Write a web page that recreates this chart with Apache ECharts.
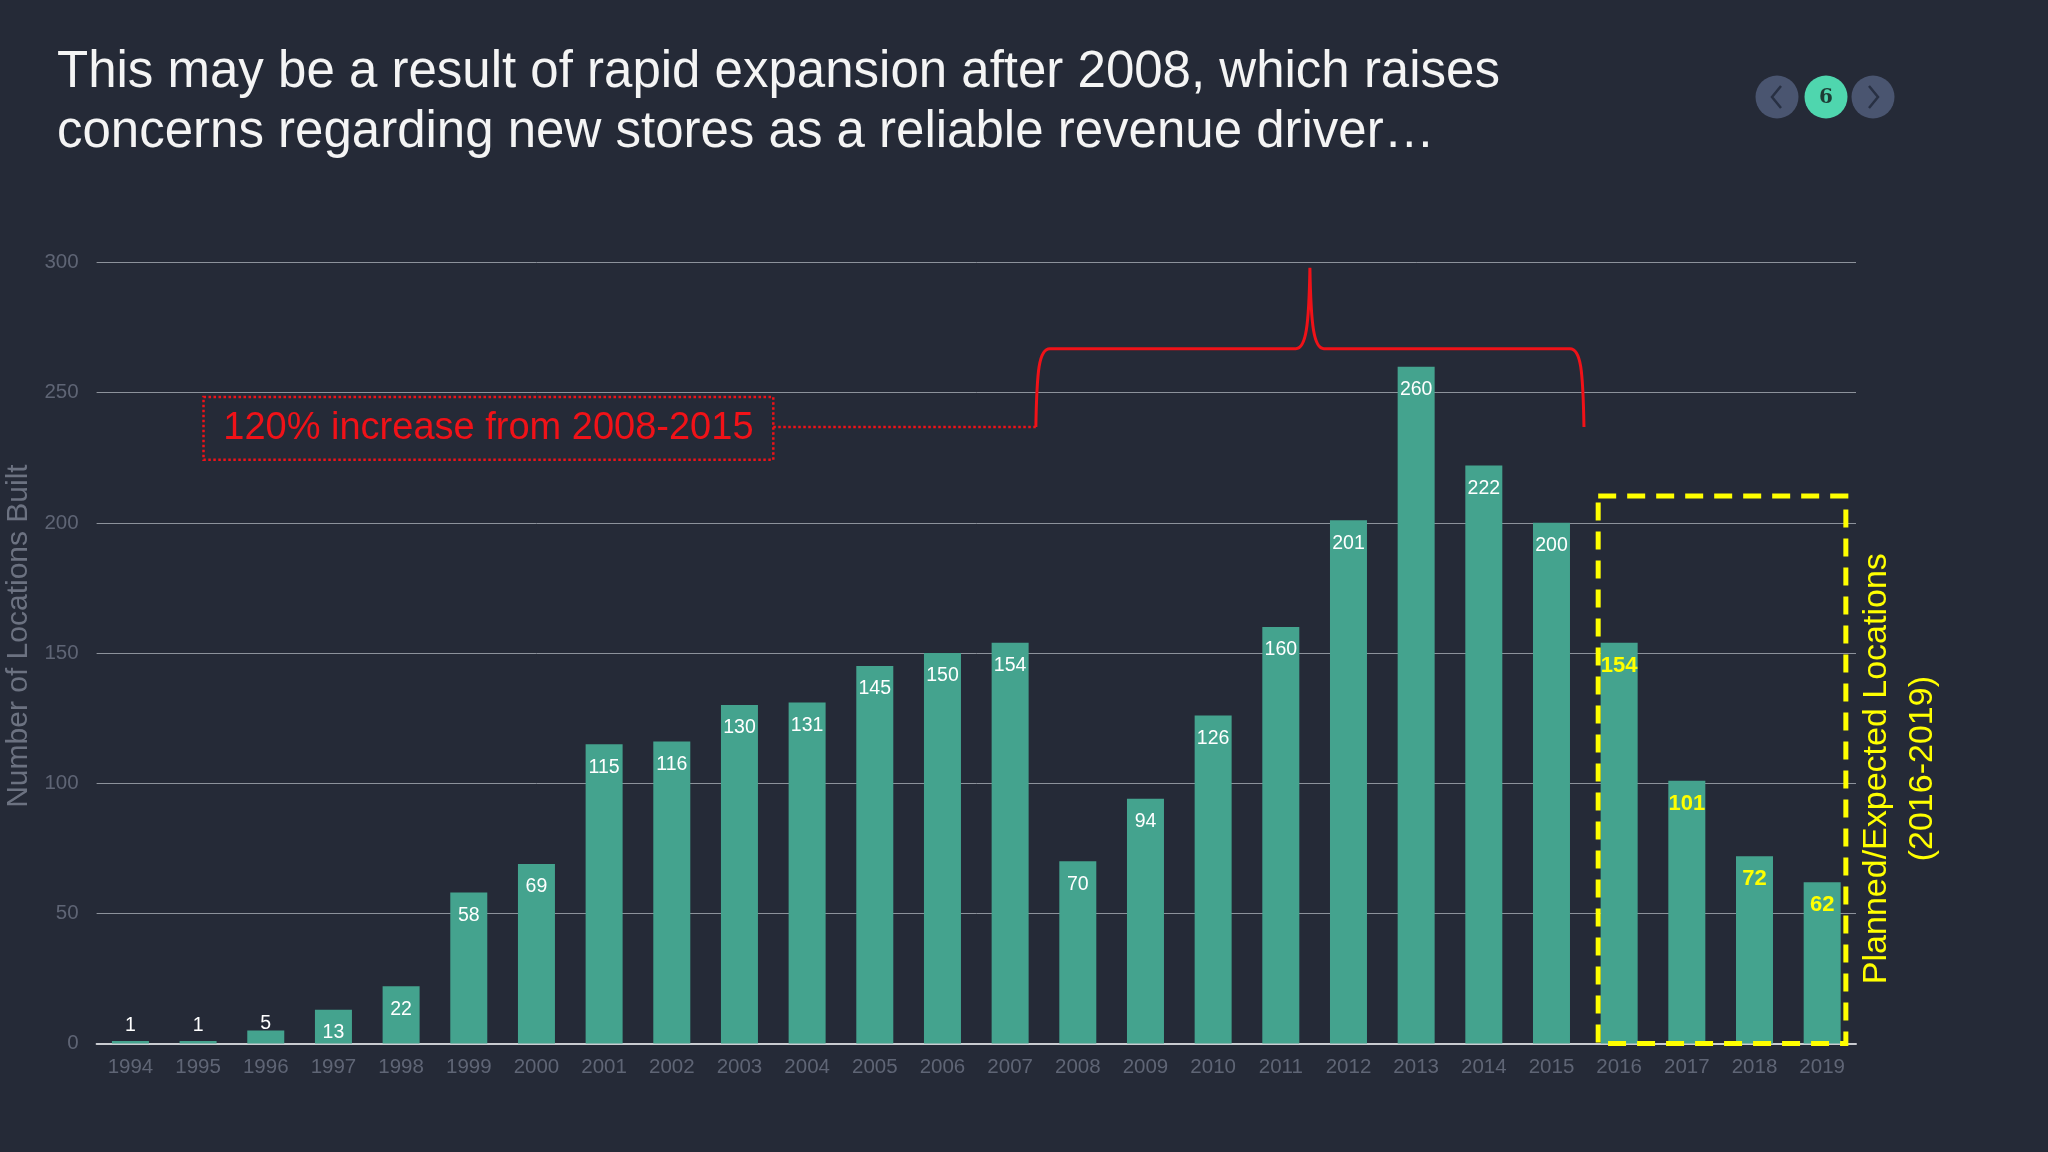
<!DOCTYPE html>
<html>
<head>
<meta charset="utf-8">
<script src="https://cdn.jsdelivr.net/npm/echarts@6/dist/echarts.min.js"></script>
<style>
html,body{margin:0;padding:0;background:#252a37;}
#chart{width:2048px;height:1152px;}
</style>
</head>
<body>
<div id="chart"></div>
<script>
const years = ['1994','1995','1996','1997','1998','1999','2000','2001','2002','2003','2004','2005','2006','2007','2008','2009','2010','2011','2012','2013','2014','2015','2016','2017','2018','2019'];
const locations = [1,1,5,13,22,58,69,115,116,130,131,145,150,154,70,94,126,160,201,260,222,200,154,101,72,62];
const plannedYears = ['2016','2017','2018','2019'];
const yTicks = [0,50,100,150,200,250,300];
const titleText = 'This may be a result of rapid expansion after 2008, which raises\nconcerns regarding new stores as a reliable revenue driver…';
const annotationText = '120% increase from 2008-2015';
const plannedText = 'Planned/Expected Locations\n(2016-2019)';
const yAxisName = 'Number of Locations Built';
const pageNumber = '6';

const FONT = '"Liberation Sans", Arial, Helvetica, sans-serif';
const chart = echarts.init(document.getElementById('chart'));

const barData = locations.map((v, i) => {
  const planned = plannedYears.indexOf(years[i]) >= 0;
  const item = { value: v };
  if (v < 10) {
    item.label = { position: 'top', distance: v < 3 ? 5 : -3 };
  }
  if (planned) {
    item.label = { color: '#ffff00', fontWeight: 'bold', fontSize: 22, distance: 12 };
  }
  return item;
});

function annotations(params, api) {
  const base = api.coord([0, 0]);
  const bw = api.size([1, 0])[0];
  const left = base[0] - bw / 2;
  const px = b => left + b * bw;
  const py = v => api.coord([0, v])[1];
  const red = '#f01218';
  const yellow = '#ffff00';

  const x0 = px(13.88), x1 = px(21.98), xm = px(17.93);
  const yB = py(236.8), yH = py(266.9), yP = py(298);
  const bracePath =
    'M' + x0 + ' ' + yB +
    ' C' + (x0 + 1) + ' ' + (yH + 22) + ' ' + (x0 + 3) + ' ' + yH + ' ' + (x0 + 14) + ' ' + yH +
    ' L' + (xm - 14) + ' ' + yH +
    ' C' + (xm - 4) + ' ' + yH + ' ' + (xm - 1) + ' ' + (yH - 22) + ' ' + xm + ' ' + yP +
    ' C' + (xm + 1) + ' ' + (yH - 22) + ' ' + (xm + 4) + ' ' + yH + ' ' + (xm + 14) + ' ' + yH +
    ' L' + (x1 - 14) + ' ' + yH +
    ' C' + (x1 - 3) + ' ' + yH + ' ' + (x1 - 1) + ' ' + (yH + 22) + ' ' + x1 + ' ' + yB;

  const bx0 = px(1.58), bx1 = px(10.0), by0 = py(248.3), by1 = py(224.2);
  const yx0 = px(22.19), yx1 = px(25.85), yy0 = py(210.3), yy1 = py(0);

  return {
    type: 'group',
    children: [
      { type: 'path', shape: { pathData: bracePath }, style: { fill: null, stroke: red, lineWidth: 3 } },
      { type: 'rect', shape: { x: bx0, y: by0, width: bx1 - bx0, height: by1 - by0 },
        style: { fill: null, stroke: red, lineWidth: 2.5, lineDash: [2.5, 2.5] } },
      { type: 'line', shape: { x1: bx1, y1: yB, x2: x0, y2: yB },
        style: { stroke: red, lineWidth: 2.5, lineDash: [2.5, 2.5] } },
      { type: 'text', style: { text: annotationText, x: (bx0 + bx1) / 2, y: (by0 + by1) / 2,
        fill: red, fontSize: 38, fontFamily: FONT, align: 'center', verticalAlign: 'middle' } },
      { type: 'rect', shape: { x: yx0, y: yy0, width: yx1 - yx0, height: yy1 - yy0 },
        style: { fill: null, stroke: yellow, lineWidth: 5, lineDash: [18, 11] } },
      { type: 'text', x: px(26.65), y: py(105.6), rotation: Math.PI / 2,
        style: { text: plannedText, x: 0, y: 0, fill: yellow, fontSize: 34, lineHeight: 46,
          fontFamily: FONT, align: 'center', verticalAlign: 'middle' } }
    ]
  };
}

const option = {
  backgroundColor: '#252a37',
  animation: false,
  textStyle: { fontFamily: FONT },
  title: {
    text: titleText,
    left: 52, top: 38,
    textStyle: { color: '#f4f4f4', fontSize: 51, fontWeight: 'normal', lineHeight: 60, fontFamily: FONT }
  },
  grid: { left: 96.6, right: 192, top: 262.5, bottom: 108.4, outerBoundsMode: 'none', containLabel: false },
  xAxis: {
    type: 'category',
    data: years,
    axisTick: { show: false },
    axisLine: { lineStyle: { color: '#c9cbd0', width: 2 } },
    axisLabel: { color: '#5f6575', fontSize: 20.5, margin: 13, fontFamily: FONT }
  },
  yAxis: {
    type: 'value',
    min: 0, max: 300, interval: 50,
    name: yAxisName,
    nameLocation: 'middle',
    nameGap: 62,
    nameTextStyle: { color: '#6c7281', fontSize: 30, fontFamily: FONT, padding: [0, 0, 0, 34] },
    axisLine: { show: false },
    axisTick: { show: false },
    axisLabel: { color: '#5f6575', fontSize: 20.5, margin: 18, fontFamily: FONT,
      formatter: v => (yTicks.indexOf(v) >= 0 ? String(v) : '') },
    splitLine: { lineStyle: { color: '#8d929b', width: 1 } }
  },
  series: [
    {
      type: 'bar',
      data: barData,
      barWidth: 37,
      itemStyle: { color: '#44a38e' },
      label: { show: true, position: 'insideTop', distance: 13, color: '#ffffff', fontSize: 19.5, fontFamily: FONT }
    },
    {
      type: 'custom',
      data: [[0, 0]],
      z: 5,
      silent: true,
      clip: false,
      renderItem: annotations
    }
  ],
  graphic: [
    { type: 'circle', shape: { cx: 1777, cy: 97, r: 21.5 }, style: { fill: '#4a5570' } },
    { type: 'circle', shape: { cx: 1826, cy: 97, r: 21.5 }, style: { fill: '#4fd6ae' } },
    { type: 'circle', shape: { cx: 1873, cy: 97, r: 21.5 }, style: { fill: '#4a5570' } },
    { type: 'polyline', shape: { points: [[1781, 86], [1772, 97], [1781, 108]] },
      style: { stroke: '#283043', lineWidth: 2.5, fill: null } },
    { type: 'polyline', shape: { points: [[1869, 86], [1878, 97], [1869, 108]] },
      style: { stroke: '#283043', lineWidth: 2.5, fill: null } },
    { type: 'text', style: { text: pageNumber, x: 1826, y: 98, fill: '#1d3b34', fontSize: 20, fontWeight: 'bold',
      fontFamily: '"DejaVu Serif", "Liberation Serif", serif', align: 'center', verticalAlign: 'middle' } }
  ]
};
chart.setOption(option);
</script>
</body>
</html>
